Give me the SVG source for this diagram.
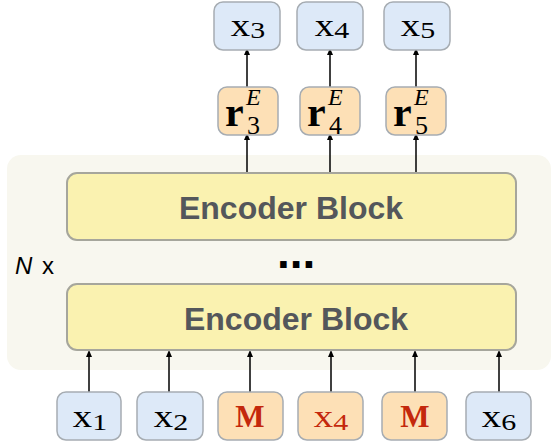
<svg xmlns="http://www.w3.org/2000/svg" width="558" height="443" viewBox="0 0 558 443">
<defs>
<marker id="ah" markerWidth="8" markerHeight="8" refX="4" refY="4" orient="auto" markerUnits="userSpaceOnUse">
<path d="M0,1 L7,4 L0,7 Z" fill="#000"/>
</marker>
<style>
.blue{fill:#dde9f8;stroke:#a6acb2;stroke-width:1.5}
.orng{fill:#fde0b6;stroke:#a6acb2;stroke-width:1.5}
.enc{fill:#faf2b0;stroke:#a6a69c;stroke-width:2}
.et{font-family:"Liberation Sans",Arial,sans-serif;font-weight:bold;font-size:32px;fill:#54575b;text-anchor:middle}
.tx{font-family:"Liberation Serif","Times New Roman",serif;font-size:31px;fill:#000;text-anchor:middle}
.sub{font-size:24px}
.red{fill:#c4280c}
.rr{font-family:"Liberation Serif","Times New Roman",serif;fill:#000}
.rb{font-size:42px;font-weight:bold}
.re{font-size:24px;font-style:italic}
.rs{font-size:26px}
.cn line{stroke:#000;stroke-width:1.5;marker-end:url(#ah)}
</style>
</defs>
<rect x="0" y="0" width="558" height="443" fill="#fff"/>
<rect id="panel" x="7" y="155" width="544" height="215" rx="14" fill="#f8f7ef"/>
<g class="cn">
<line x1="247" y1="87" x2="247" y2="51"/>
<line x1="330" y1="87" x2="330" y2="51"/>
<line x1="416" y1="87" x2="416" y2="51"/>
<line x1="247" y1="173" x2="247" y2="136"/>
<line x1="330" y1="173" x2="330" y2="136"/>
<line x1="416" y1="173" x2="416" y2="136"/>
<line x1="89" y1="392" x2="89" y2="353"/>
<line x1="169" y1="392" x2="169" y2="353"/>
<line x1="250" y1="392" x2="250" y2="353"/>
<line x1="331" y1="392" x2="331" y2="353"/>
<line x1="415" y1="392" x2="415" y2="353"/>
<line x1="499" y1="392" x2="499" y2="353"/>
</g>
<g id="enc_top"><rect class="enc" x="67" y="173" width="449" height="67" rx="10"/><text class="et" x="291" y="219">Encoder Block</text></g>
<g id="enc_bot"><rect class="enc" x="67" y="284" width="449" height="66" rx="10"/><text class="et" x="296" y="330">Encoder Block</text></g>
<g id="nx"><text y="274" font-family="Liberation Sans,Arial,sans-serif" font-size="24" fill="#000"><tspan x="15" font-style="italic">N</tspan><tspan x="42">x</tspan></text></g>
<g id="dots"><text x="277" y="268" font-family="Liberation Sans,Arial,sans-serif" font-weight="bold" font-size="46" fill="#000">...</text></g>
<g id="out3"><rect class="blue" x="214" y="2" width="66" height="48" rx="9"/><text class="tx" transform="translate(248,36) scale(1.25,1)">x<tspan class="sub" dy="1.5">3</tspan></text></g>
<g id="out4"><rect class="blue" x="297" y="2" width="66" height="48" rx="9"/><text class="tx" transform="translate(332,36) scale(1.25,1)">x<tspan class="sub" dy="1.5">4</tspan></text></g>
<g id="out5"><rect class="blue" x="384" y="2" width="66" height="48" rx="9"/><text class="tx" transform="translate(418,36) scale(1.25,1)">x<tspan class="sub" dy="1.5">5</tspan></text></g>
<g id="r3"><rect class="orng" x="218" y="87" width="60" height="48" rx="9"/><text class="rr rb" x="225" y="126">r</text><text class="rr re" x="246" y="105">E</text><text class="rr rs" x="247" y="134">3</text></g>
<g id="r4"><rect class="orng" x="300" y="87" width="60" height="48" rx="9"/><text class="rr rb" x="307" y="126">r</text><text class="rr re" x="328" y="105">E</text><text class="rr rs" x="329" y="134">4</text></g>
<g id="r5"><rect class="orng" x="386" y="87" width="60" height="48" rx="9"/><text class="rr rb" x="393" y="126">r</text><text class="rr re" x="414" y="105">E</text><text class="rr rs" x="415" y="134">5</text></g>
<g id="in1"><rect class="blue" x="57" y="392" width="64" height="48" rx="9"/><text class="tx" transform="translate(90,427) scale(1.25,1)">x<tspan class="sub" dy="2.5">1</tspan></text></g>
<g id="in2"><rect class="blue" x="137" y="392" width="66" height="48" rx="9"/><text class="tx" transform="translate(171,427) scale(1.25,1)">x<tspan class="sub" dy="2.5">2</tspan></text></g>
<g id="in3"><rect class="orng" x="218" y="392" width="65" height="48" rx="9"/><text class="tx red" x="250" y="427" font-weight="bold" font-size="29">M</text></g>
<g id="in4"><rect class="orng" x="298" y="392" width="65" height="48" rx="9"/><text class="tx red" transform="translate(331,427) scale(1.25,1)">x<tspan class="sub" dy="2.5">4</tspan></text></g>
<g id="in5"><rect class="orng" x="382" y="392" width="65" height="48" rx="9"/><text class="tx red" x="415" y="427" font-weight="bold" font-size="29">M</text></g>
<g id="in6"><rect class="blue" x="466" y="392" width="65" height="48" rx="9"/><text class="tx" transform="translate(499,427) scale(1.25,1)">x<tspan class="sub" dy="2.5">6</tspan></text></g>
</svg>
